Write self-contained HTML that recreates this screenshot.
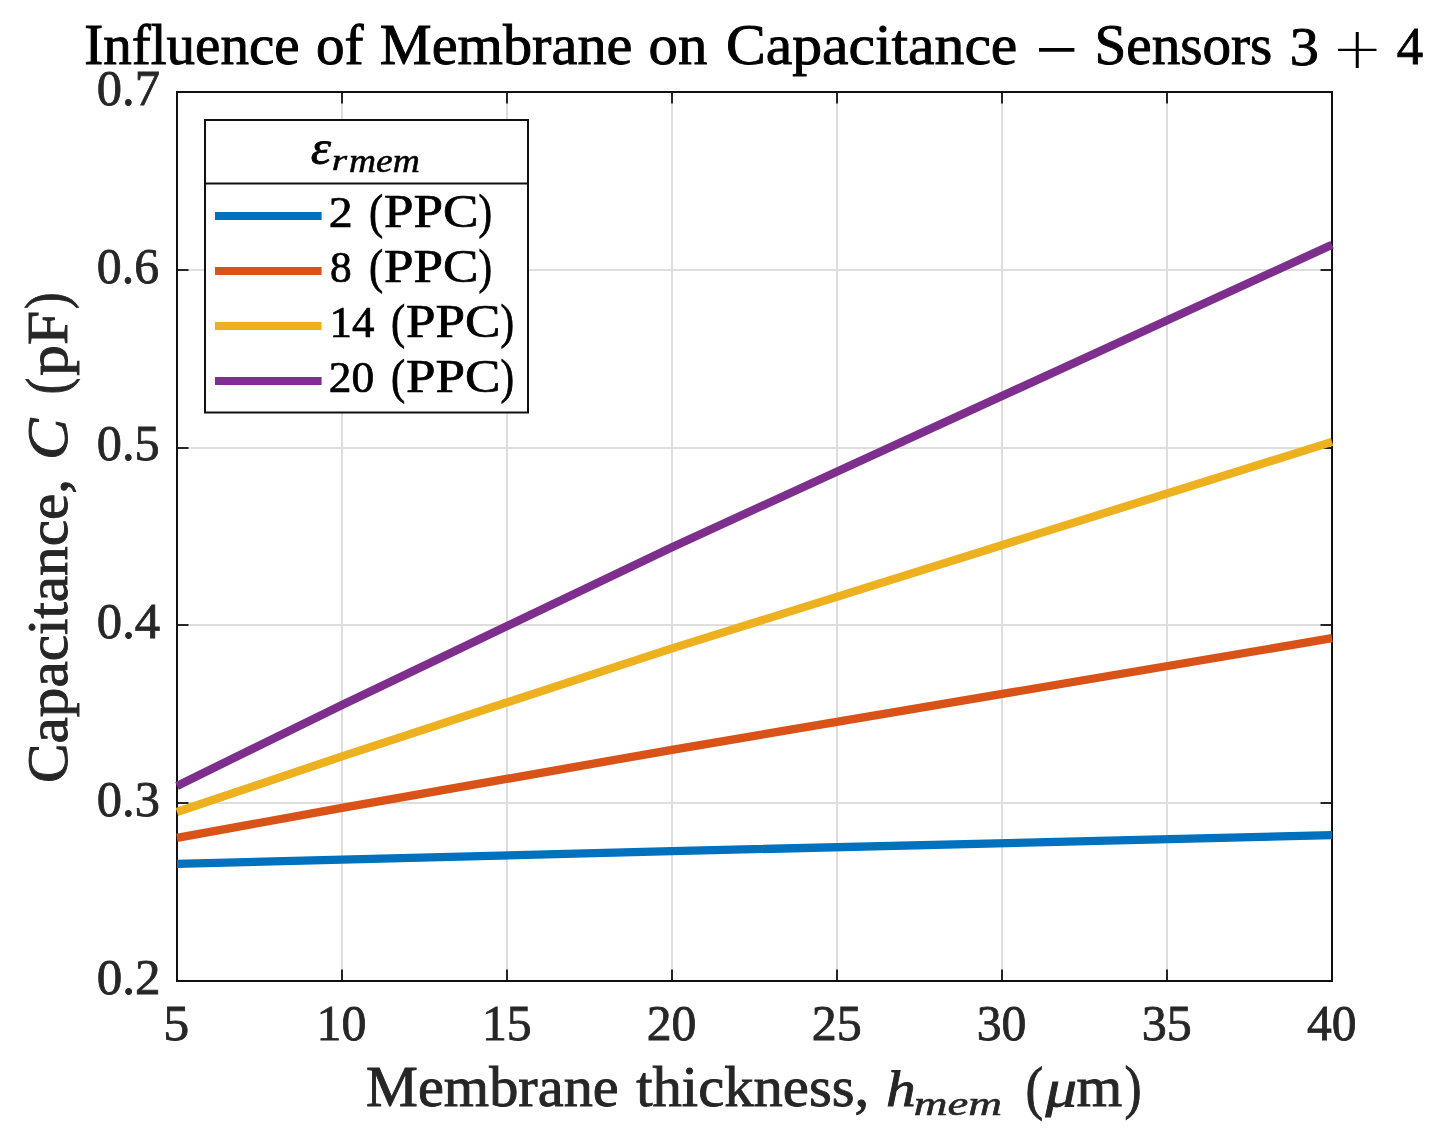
<!DOCTYPE html>
<html lang="en"><head><meta charset="utf-8"><title>Influence of Membrane on Capacitance</title>
<style>html,body{margin:0;padding:0;background:#fff}svg{display:block}text{font-family:'Liberation Serif', serif;white-space:pre}</style></head><body>
<svg width="1437" height="1138" viewBox="0 0 1437 1138">
<rect width="1437" height="1138" fill="#fff"/>
<path d="M342.0 92.0V981.0M507.0 92.0V981.0M672.0 92.0V981.0M837.0 92.0V981.0M1002.0 92.0V981.0M1167.0 92.0V981.0M177.0 803H1332.0M177.0 625H1332.0M177.0 448H1332.0M177.0 270H1332.0" stroke="#dedede" stroke-width="2" fill="none"/>
<path d="M342.0 981.0v-11.5M342.0 92.0v11.5M507.0 981.0v-11.5M507.0 92.0v11.5M672.0 981.0v-11.5M672.0 92.0v11.5M837.0 981.0v-11.5M837.0 92.0v11.5M1002.0 981.0v-11.5M1002.0 92.0v11.5M1167.0 981.0v-11.5M1167.0 92.0v11.5M177.0 803h11.5M1332.0 803h-11.5M177.0 625h11.5M1332.0 625h-11.5M177.0 448h11.5M1332.0 448h-11.5M177.0 270h11.5M1332.0 270h-11.5" stroke="#262626" stroke-width="2" fill="none"/>
<rect x="177.0" y="92.0" width="1155.0" height="889.0" fill="none" stroke="#101010" stroke-width="2"/>
<polyline points="177.0,863.8 342.0,859.7 672.0,851.2 1332.0,835.2" stroke="#0072BD" stroke-width="8.3" fill="none" stroke-linejoin="round"/>
<polyline points="177.0,837.8 342.0,807.9 672.0,749.8 1332.0,638.2" stroke="#D95319" stroke-width="8.3" fill="none" stroke-linejoin="round"/>
<polyline points="177.0,812.0 342.0,756.4 672.0,648.4 1332.0,441.9" stroke="#EDB120" stroke-width="8.3" fill="none" stroke-linejoin="round"/>
<polyline points="177.0,785.9 342.0,704.9 672.0,547.2 1332.0,244.8" stroke="#7E2F8E" stroke-width="8.3" fill="none" stroke-linejoin="round"/>
<rect x="205" y="120" width="323" height="292.5" fill="#fff" stroke="#101010" stroke-width="2"/>
<path d="M205 183.5H528" stroke="#101010" stroke-width="2"/>
<path d="M215 216H321.6" stroke="#0072BD" stroke-width="8.2"/>
<path d="M215 271H321.6" stroke="#D95319" stroke-width="8.2"/>
<path d="M215 326H321.6" stroke="#EDB120" stroke-width="8.2"/>
<path d="M215 381H321.6" stroke="#7E2F8E" stroke-width="8.2"/>
<text transform="translate(84.27 64.10) scale(1.0129 1.0000)" font-size="56.3" fill="#000" stroke="#000" stroke-width="0.90">Influence</text>
<text transform="translate(315.97 64.10) scale(1.0156 1.0000)" font-size="56.3" fill="#000" stroke="#000" stroke-width="0.90">of</text>
<text transform="translate(379.76 64.10) scale(1.0365 1.0000)" font-size="56.3" fill="#000" stroke="#000" stroke-width="0.90">Membrane</text>
<text transform="translate(648.51 64.10) scale(1.0444 1.0000)" font-size="56.3" fill="#000" stroke="#000" stroke-width="0.90">on</text>
<text transform="translate(725.88 64.10) scale(1.0596 1.0000)" font-size="56.3" fill="#000" stroke="#000" stroke-width="0.90">Capacitance</text>
<text transform="translate(1094.45 64.10) scale(1.0158 1.0000)" font-size="56.3" fill="#000" stroke="#000" stroke-width="0.90">Sensors</text>
<text transform="translate(1289.73 65.12) scale(1.0333 0.9825)" font-size="56.3" fill="#000" stroke="#000" stroke-width="0.90">3</text>
<text transform="translate(1396.86 64.05) scale(0.9370 0.9550)" font-size="56.3" fill="#000" stroke="#000" stroke-width="0.90">4</text>
<text transform="translate(1033.05 79.20) scale(0.9750 1.6000)" font-size="58" style="font-family:'DejaVu Sans Light', 'DejaVu Sans', sans-serif" fill="#000" stroke="#000" stroke-width="0.00">−</text>
<text transform="translate(1331.53 68.12) scale(1.0611 0.9789)" font-size="58" style="font-family:'DejaVu Sans Light', 'DejaVu Sans', sans-serif" fill="#000" stroke="#000" stroke-width="0.00">+</text>
<text transform="translate(96.80 993.71) scale(1.0017 0.9943)" font-size="51" fill="#262626" stroke="#262626" stroke-width="0.82">0.2</text>
<text transform="translate(96.81 815.91) scale(0.9902 0.9943)" font-size="51" fill="#262626" stroke="#262626" stroke-width="0.82">0.3</text>
<text transform="translate(96.81 638.11) scale(0.9935 0.9943)" font-size="51" fill="#262626" stroke="#262626" stroke-width="0.82">0.4</text>
<text transform="translate(96.81 460.31) scale(0.9869 0.9943)" font-size="51" fill="#262626" stroke="#262626" stroke-width="0.82">0.5</text>
<text transform="translate(96.82 282.51) scale(0.9774 0.9943)" font-size="51" fill="#262626" stroke="#262626" stroke-width="0.82">0.6</text>
<text transform="translate(96.81 104.71) scale(0.9903 0.9943)" font-size="51" fill="#262626" stroke="#262626" stroke-width="0.82">0.7</text>
<text transform="translate(163.14 1039.92) scale(1.0190 0.9771)" font-size="51" fill="#262626" stroke="#262626" stroke-width="0.82">5</text>
<text transform="translate(316.49 1039.92) scale(0.9783 0.9771)" font-size="51" fill="#262626" stroke="#262626" stroke-width="0.82">10</text>
<text transform="translate(482.00 1039.92) scale(0.9756 0.9771)" font-size="51" fill="#262626" stroke="#262626" stroke-width="0.82">15</text>
<text transform="translate(646.75 1039.92) scale(0.9750 0.9771)" font-size="51" fill="#262626" stroke="#262626" stroke-width="0.82">20</text>
<text transform="translate(811.74 1039.92) scale(0.9809 0.9771)" font-size="51" fill="#262626" stroke="#262626" stroke-width="0.82">25</text>
<text transform="translate(976.75 1039.92) scale(0.9750 0.9771)" font-size="51" fill="#262626" stroke="#262626" stroke-width="0.82">30</text>
<text transform="translate(1141.74 1039.92) scale(0.9809 0.9771)" font-size="51" fill="#262626" stroke="#262626" stroke-width="0.82">35</text>
<text transform="translate(1306.93 1039.92) scale(0.9714 0.9771)" font-size="51" fill="#262626" stroke="#262626" stroke-width="0.82">40</text>
<text transform="translate(366.06 1105.90) scale(1.0361 1.0000)" font-size="56.3" fill="#262626" stroke="#262626" stroke-width="0.90">Membrane</text>
<text transform="translate(636.20 1105.90) scale(1.0423 1.0000)" font-size="56.3" fill="#262626" stroke="#262626" stroke-width="0.90">thickness,</text>
<text transform="translate(885.98 1105.90) scale(1.0583 0.9098)" font-size="56.3" font-style="italic" fill="#262626" stroke="#262626" stroke-width="0.90">h</text>
<text transform="translate(913.78 1115.00) scale(1.4167 1.0125)" font-size="33" font-style="italic" fill="#262626" stroke="#262626" stroke-width="0.53">mem</text>
<text transform="translate(1025.52 1108.16) scale(0.9400 1.0615)" font-size="56.3" fill="#262626" stroke="#262626" stroke-width="0.90">(</text>
<text transform="translate(1045.40 1106.27) scale(1.1148 0.9250)" font-size="56.3" font-style="italic" fill="#262626" stroke="#262626" stroke-width="0.90">μ</text>
<text transform="translate(1076.45 1105.90) scale(1.0452 1.0000)" font-size="56.3" fill="#262626" stroke="#262626" stroke-width="0.90">m</text>
<text transform="translate(1124.39 1107.36) scale(0.9125 1.0415)" font-size="56.3" fill="#262626" stroke="#262626" stroke-width="0.90">)</text>
<text transform="translate(66.60 782.90) rotate(-90) scale(1.0514 1.0000)" font-size="56.3" fill="#262626" stroke="#262626" stroke-width="0.90">Capacitance,</text>
<text transform="translate(66.60 459.90) rotate(-90) scale(1.1000 1.0000)" font-size="56.3" font-style="italic" fill="#262626" stroke="#262626" stroke-width="0.90">C</text>
<text transform="translate(67.02 394.26) rotate(-90) scale(0.8800 1.0654)" font-size="56.3" fill="#262626" stroke="#262626" stroke-width="0.90">(</text>
<text transform="translate(66.60 375.80) rotate(-90) scale(1.0914 1.0000)" font-size="56.3" fill="#262626" stroke="#262626" stroke-width="0.90">pF</text>
<text transform="translate(66.21 308.88) rotate(-90) scale(0.8750 1.0453)" font-size="56.3" fill="#262626" stroke="#262626" stroke-width="0.90">)</text>
<text transform="translate(310.66 164.20) scale(1.1412 1.0667)" font-size="45" font-style="italic" fill="#000" stroke="#000" stroke-width="0.72">ε</text>
<text transform="translate(331.73 169.80) scale(1.2727 0.9333)" font-size="31" font-style="italic" fill="#000" stroke="#000" stroke-width="0.50">r</text>
<text transform="translate(348.99 172.00) scale(1.2105 1.0667)" font-size="31" font-style="italic" fill="#000" stroke="#000" stroke-width="0.50">mem</text>
<text transform="translate(328.74 226.70) scale(1.0778 1.0172)" font-size="44.5" fill="#000" stroke="#000" stroke-width="0.72">2</text>
<text transform="translate(368.95 228.02) scale(0.9250 1.0581)" font-size="46" fill="#000" stroke="#000" stroke-width="0.74">(</text>
<text transform="translate(383.95 226.70) scale(1.1456 1.0000)" font-size="46.3" fill="#000" stroke="#000" stroke-width="0.74">PPC</text>
<text transform="translate(478.52 228.02) scale(0.8846 1.0581)" font-size="46" fill="#000" stroke="#000" stroke-width="0.74">)</text>
<text transform="translate(329.92 281.70) scale(0.9750 1.0172)" font-size="44.5" fill="#000" stroke="#000" stroke-width="0.72">8</text>
<text transform="translate(368.95 283.02) scale(0.9250 1.0581)" font-size="46" fill="#000" stroke="#000" stroke-width="0.74">(</text>
<text transform="translate(383.95 281.70) scale(1.1456 1.0000)" font-size="46.3" fill="#000" stroke="#000" stroke-width="0.74">PPC</text>
<text transform="translate(478.52 283.02) scale(0.8846 1.0581)" font-size="46" fill="#000" stroke="#000" stroke-width="0.74">)</text>
<text transform="translate(329.57 336.70) scale(1.0098 1.0172)" font-size="44.5" fill="#000" stroke="#000" stroke-width="0.72">14</text>
<text transform="translate(390.95 338.02) scale(0.9250 1.0581)" font-size="46" fill="#000" stroke="#000" stroke-width="0.74">(</text>
<text transform="translate(405.95 336.70) scale(1.1456 1.0000)" font-size="46.3" fill="#000" stroke="#000" stroke-width="0.74">PPC</text>
<text transform="translate(500.52 338.02) scale(0.8846 1.0581)" font-size="46" fill="#000" stroke="#000" stroke-width="0.74">)</text>
<text transform="translate(328.86 391.70) scale(1.0220 1.0172)" font-size="44.5" fill="#000" stroke="#000" stroke-width="0.72">20</text>
<text transform="translate(390.95 393.02) scale(0.9250 1.0581)" font-size="46" fill="#000" stroke="#000" stroke-width="0.74">(</text>
<text transform="translate(405.95 391.70) scale(1.1456 1.0000)" font-size="46.3" fill="#000" stroke="#000" stroke-width="0.74">PPC</text>
<text transform="translate(500.52 393.02) scale(0.8846 1.0581)" font-size="46" fill="#000" stroke="#000" stroke-width="0.74">)</text>
</svg></body></html>
